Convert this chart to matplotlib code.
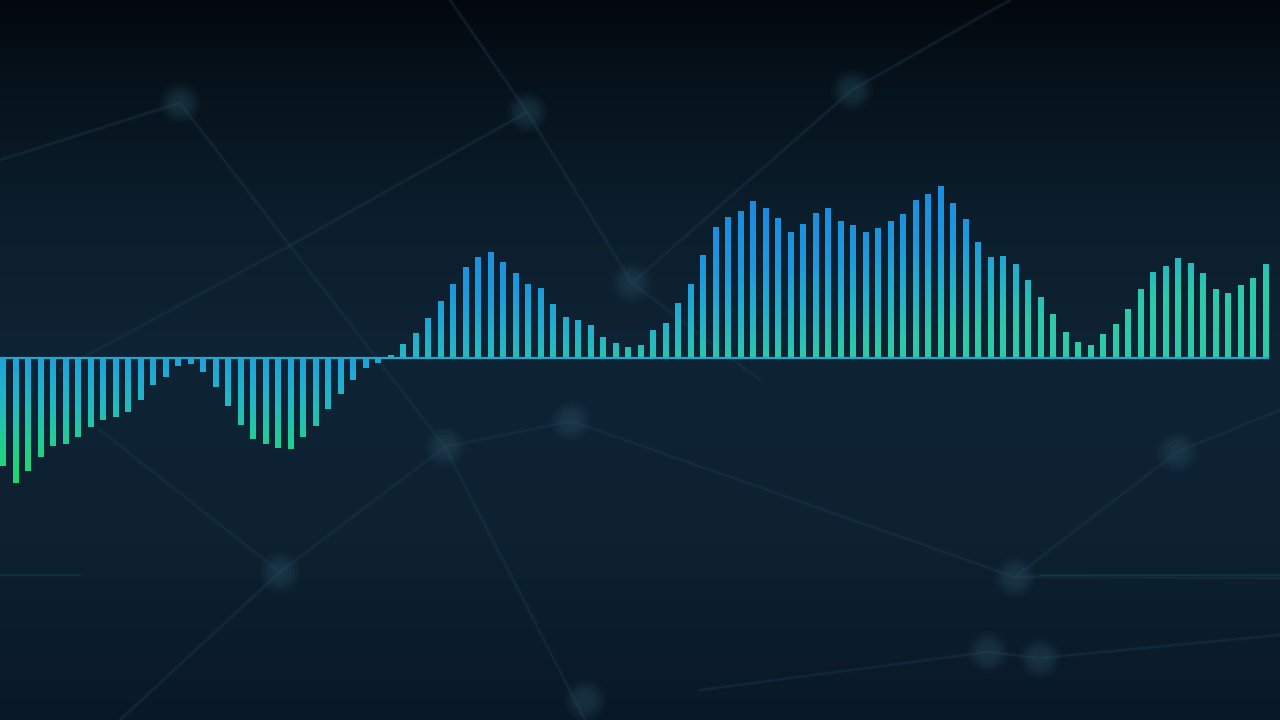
import numpy as np
import matplotlib
matplotlib.use("Agg")
import matplotlib.pyplot as plt
from matplotlib.colors import to_rgb
from matplotlib.patches import Ellipse

# ---------------- data ----------------
neg_values = [-108, -125, -113, -99, -88, -86, -79, -69, -62, -59, -54, -42, -27, -19,
              -8, -6, -14, -29, -48, -67, -81, -86, -90, -91, -79, -68, -51, -36, -22,
              -10, -5]
pos_values = [3, 14, 25, 40, 57, 74, 91, 101, 106, 96,
              85, 74, 70, 54, 41, 38, 33, 21, 15, 11,
              13, 28, 35, 55, 74, 103, 131, 141, 147, 157,
              150, 140, 126, 134, 145, 150, 137, 133, 126, 130,
              137, 144, 158, 164, 172, 155, 139, 116, 101, 102,
              94, 78, 61, 44, 26, 16, 13, 24, 34, 49,
              69, 86, 92, 100, 95, 85, 69, 65, 73, 80,
              94]
values = neg_values + pos_values
index = list(range(len(values)))

# ---------------- figure ----------------
W, H = 1280, 720
fig = plt.figure(figsize=(12.8, 7.2), dpi=100)
ax = fig.add_axes([0, 0, 1, 1])
x0_px, step_px, base_px = 3.2, 12.5, 358
xlim = (-x0_px / step_px, (W - x0_px) / step_px)
ylim = (-(H - base_px), base_px)
ax.set_xlim(*xlim)
ax.set_ylim(*ylim)
ax.axis("off")


def lerp_stops(stops, t):
    pos = np.array([s[0] for s in stops])
    cols = np.array([to_rgb(s[1]) for s in stops])
    return np.stack([np.interp(t, pos, cols[:, k]) for k in range(3)], axis=-1)


# background gradient
bg_stops = [(0.0, "#03080d"), (0.1, "#06111a"), (0.3, "#0b1e2c"),
            (0.5, "#0e2334"), (0.75, "#0d2131"), (1.0, "#091826")]
ty = np.linspace(0, 1, 360)
col = lerp_stops(bg_stops, ty)
img = np.repeat(col[:, None, :], 4, axis=1)
ax.imshow(img, extent=(*xlim, *ylim), aspect="auto", origin="upper",
          zorder=0, interpolation="bilinear")


def fp(x, y):
    return x / W, 1 - y / H


# faint network decoration
net_lines = [
    [(0, 160), (180, 103), (445, 447), (280, 572), (120, 720)],
    [(450, 0), (527, 112), (632, 283), (852, 90), (1010, 0)],
    [(60, 370), (300, 240), (527, 112)],
    [(445, 447), (571, 421), (1015, 577), (1280, 578)],
    [(445, 447), (585, 720)],
    [(100, 430), (280, 572)],
    [(1015, 577), (1177, 452), (1280, 410)],
    [(632, 283), (760, 380)],
    [(700, 690), (988, 652), (1040, 658), (1280, 635)],
]
for pts in net_lines:
    xs, ys = zip(*[fp(*p) for p in pts])
    ax.plot(xs, ys, transform=fig.transFigure, color="#1c3a4c", lw=3.0,
            alpha=0.18, zorder=1)
    ax.plot(xs, ys, transform=fig.transFigure, color="#1c3a4c", lw=1.2,
            alpha=0.35, zorder=1)

nodes = [(180, 103), (527, 112), (852, 90), (632, 283), (571, 421), (445, 447),
         (1177, 452), (280, 572), (1015, 577), (988, 652), (1040, 658), (585, 700)]
for (nx, ny) in nodes:
    for r, a in [(21, 0.07), (18, 0.09), (15, 0.11), (12, 0.12), (8, 0.10)]:
        e = Ellipse(fp(nx, ny), 2 * r / W, 2 * r / H, transform=fig.transFigure,
                    color="#2e5466", alpha=a, lw=0, zorder=1)
        ax.add_patch(e)

ax.plot(*zip(fp(1040, 575), fp(1280, 575)), transform=fig.transFigure,
        color="#1d6a4a", lw=1.2, alpha=0.35, zorder=1)
ax.plot(*zip(fp(0, 575), fp(80, 575)), transform=fig.transFigure,
        color="#1d6a4a", lw=1.2, alpha=0.3, zorder=1)

# ---------------- bars ----------------
bar_w = 0.47
bars = ax.bar(index, values, width=bar_w, color="none", edgecolor="none", zorder=3)

pos_stops = [(0.0, "#2ccaa9"), (0.3, "#22b0cc"), (0.55, "#1e99dc"), (1.0, "#1a88e2")]
neg_stops = [(0.0, "#1ea2dc"), (0.35, "#22b8c4"), (0.65, "#22cc96"), (1.0, "#1ed86a")]

for i, (b, v) in enumerate(zip(bars, values)):
    x_left = b.get_x()
    x_px = x0_px + step_px * i
    n = 80
    vy = np.linspace(0, v, n)
    if v >= 0:
        shift = np.interp(x_px, [380, 650, 800, 1266], [0.22, 0.08, 0.0, -0.45])
        t = vy / 170.0 + shift
        cols = lerp_stops(pos_stops, np.clip(t, 0, 1))
        im = cols[::-1][:, None, :]
        ext = (x_left, x_left + bar_w, 0, v)
    else:
        t = -vy / 125.0
        cols = lerp_stops(neg_stops, np.clip(t, 0, 1))
        im = cols[:, None, :]
        ext = (x_left, x_left + bar_w, v, 0)
    art = ax.imshow(im, extent=ext, aspect="auto", origin="upper",
                    zorder=3, interpolation="bilinear")
    art.set_clip_path(b)

# baseline
ax.plot([xlim[0], len(values) - 1 + bar_w / 2], [0, 0], color="#22a6cc",
        lw=1.6, zorder=4, solid_capstyle="butt")

ax.set_xlim(*xlim)
ax.set_ylim(*ylim)
fig.savefig("out.png", dpi=100, facecolor="#0b1a26")
